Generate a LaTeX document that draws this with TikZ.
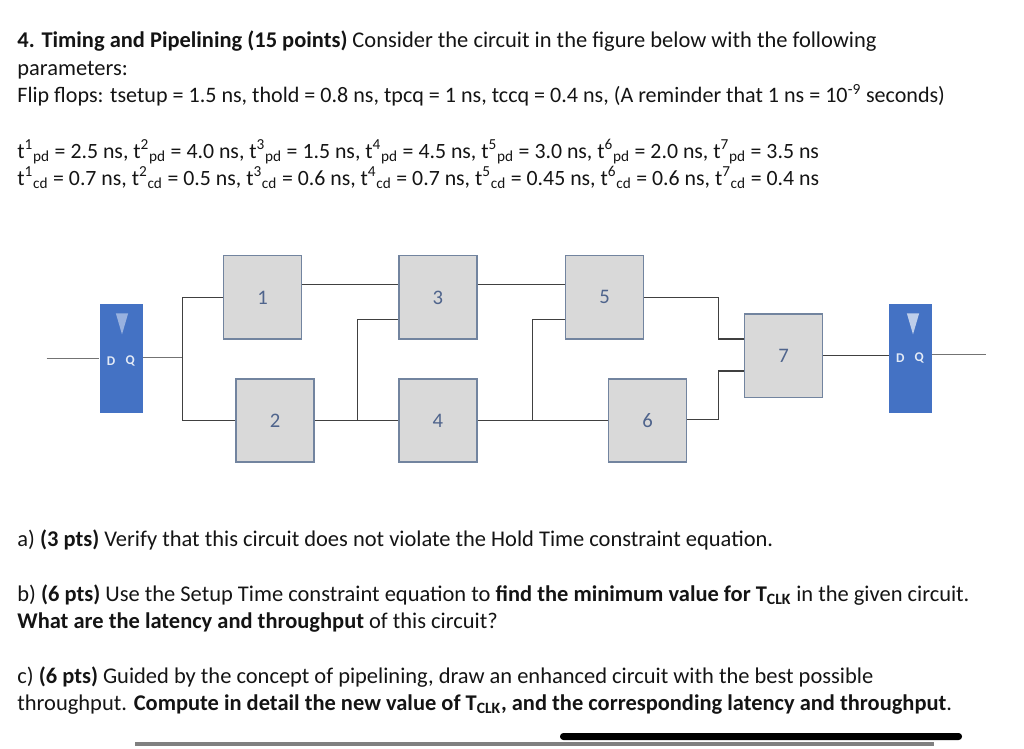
\documentclass[tikz,border=0pt]{standalone}
\usepackage{fontspec}
\setmainfont{Carlito}
\usetikzlibrary{calc,positioning,shapes.geometric}
\definecolor{blockgray}{HTML}{D9D9D9}
\definecolor{blockline}{HTML}{72849F}
\definecolor{blocktext}{HTML}{4F648C}
\definecolor{ffblue}{HTML}{4472C4}
\tikzset{
circuit/.style={x=0.75pt,y=-0.75pt,semithick},
block/.style={rectangle,draw=blockline,fill=blockgray,line width=1.1pt,minimum width=58.5pt,minimum height=62.5pt,inner sep=0pt,text=blocktext,font=\fontsize{15.5}{18}\selectfont},
flop/.style={rectangle,draw=none,fill=ffblue,minimum width=32pt,minimum height=81.5pt,inner sep=0pt},
flop label/.style={text=white!85!ffblue,font=\fontsize{10}{12}\selectfont\bfseries,inner sep=0pt},
clock/.style={isosceles triangle,isosceles triangle apex angle=36,isosceles triangle stretches,shape border rotate=-90,draw=none,inner sep=0pt,minimum height=15.75pt,minimum width=9.2pt},
wire/.style={draw=black!75,line width=0.9pt},
stub/.style={draw=black!55,line width=1.1pt},
line/.style={anchor=base west,inner sep=0pt,text=black!92,font=\fontsize{16.85}{20}\selectfont},
digits/.style={line,font=\fontsize{#1}{20}\selectfont},
}
\newcommand{\tpd}[1]{t\textsuperscript{#1}\textsubscript{pd}}
\newcommand{\tcd}[1]{t\textsuperscript{#1}\textsubscript{cd}}
\begin{document}
\begin{tikzpicture}[circuit]
\useasboundingbox (0,0) rectangle (1024,749);
% problem text
\node[line] (title) at (17,48) {\textbf{4. Timing and Pipelining (15 points)} Consider the circuit in the figure below with the following};
\node[line] (params) at (17,75) {parameters:};
\node[digits=16.55] (flops) at (17,103) {Flip flops: tsetup = 1.5 ns, thold = 0.8 ns, tpcq = 1 ns, tccq = 0.4 ns, (A reminder that 1 ns = 10\textsuperscript{-9} seconds)};
\node[digits=16.35] (pd) at (17,158) {\tpd{1} = 2.5 ns, \tpd{2} = 4.0 ns, \tpd{3} = 1.5 ns, \tpd{4} = 4.5 ns, \tpd{5} = 3.0 ns, \tpd{6} = 2.0 ns, \tpd{7} = 3.5 ns};
\node[digits=16.35] (cd) at (17,185) {\tcd{1} = 0.7 ns, \tcd{2} = 0.5 ns, \tcd{3} = 0.6 ns, \tcd{4} = 0.7 ns, \tcd{5} = 0.45 ns, \tcd{6} = 0.6 ns, \tcd{7} = 0.4 ns};
% circuit
\node[flop] (ffa) at (121.2,358.3) {};
\node[flop] (ffb) at (910.7,358.3) {};
\node[block] (b1) at (262.7,297.4) {1};
\node[block] (b2) at (275.2,420.5) {2};
\node[block] (b3) at (437.8,297.4) {3};
\node[block] (b4) at (437.8,420.5) {4};
\node[block] (b5) at (604.5,297.4) {5};
\node[block] (b6) at (647.5,420.5) {6};
\node[block] (b7) at (783.5,355.7) {7};
\node[clock,fill=ffblue!55!white] (cka) at (122,318) {};
\node[clock,fill=ffblue!35!white] (ckb) at (913,318) {};
\node[flop label] (da) at (111,361) {D};
\node[flop label] (qa) at (130.3,361) {Q};
\node[flop label] (db) at (900.3,358) {D};
\node[flop label] (qb) at (919.3,358) {Q};
\coordinate (in) at (46.7,358.7);
\coordinate (out) at (986,354.5);
\coordinate (fork) at (182.3,357.7);
\coordinate (tapa) at (357.3,420.5);
\coordinate (tapb) at (532.3,420.5);
\coordinate (joina) at (718.7,297.4);
\coordinate (joinb) at (718.7,419.3);
\draw[stub] (in) -- (ffa.west |- in);
\draw[stub] (ffa.east |- fork) -- (fork);
\draw[wire] (fork) |- (b1.west);
\draw[wire] (fork) |- (b2.west);
\draw[wire] ([yshift=9.75pt]b1.east) -- ([yshift=9.75pt]b3.west);
\draw[wire] (b2.east) -- (b4.west);
\draw[wire] (tapa) |- ([yshift=-16.5pt]b3.west);
\draw[wire] ([yshift=9.75pt]b3.east) -- ([yshift=9.75pt]b5.west);
\draw[wire] (b4.east) -- (b6.west);
\draw[wire] (tapb) |- ([yshift=-16.5pt]b5.west);
\draw[wire] (b5.east) -- (joina) |- ([yshift=12.5pt]b7.west);
\draw[wire] (b6.east |- joinb) -- (joinb) |- ([yshift=-11.5pt]b7.west);
\draw[wire] (b7.east) -- (ffb.west |- b7.east);
\draw[stub] (ffb.east |- out) -- (out);
% answer text
\node[line] (parta) at (17,546) {a) \textbf{(3 pts)} Verify that this circuit does not violate the Hold Time constraint equation.};
\node[line] (partb) at (17,601) {b) \textbf{(6 pts)} Use the Setup Time constraint equation to \textbf{find the minimum value for T\textsubscript{CLK}} in the given circuit.};
\node[line] (partbb) at (17,628) {\textbf{What are the latency and throughput} of this circuit?};
\node[line] (partc) at (17,683) {c) \textbf{(6 pts)} Guided by the concept of pipelining, draw an enhanced circuit with the best possible};
\node[line] (partcc) at (17,710) {throughput. \textbf{Compute in detail the new value of T\textsubscript{CLK}, and the corresponding latency and throughput}.};
% scroll bars
\fill[black!50] (135,742) rectangle (934,746);
\fill[black,rounded corners=2.5pt] (560,733) rectangle (962,740);
\end{tikzpicture}
\end{document}
